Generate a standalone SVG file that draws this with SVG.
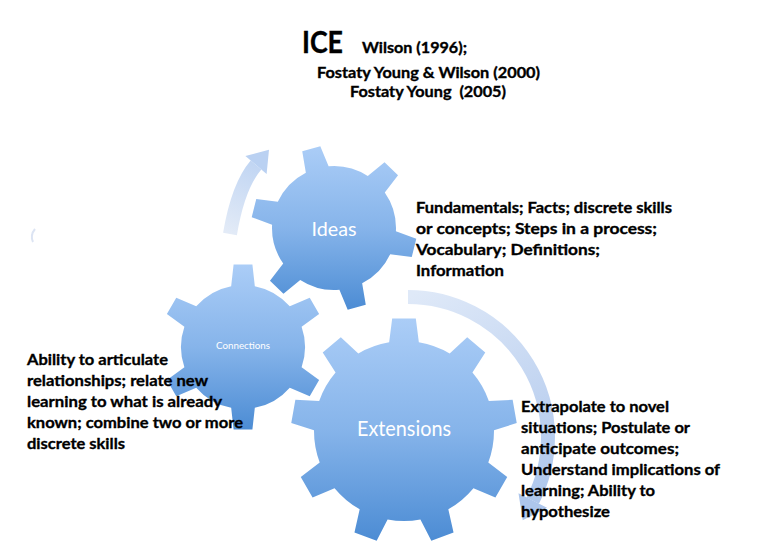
<svg xmlns="http://www.w3.org/2000/svg" width="768" height="557" viewBox="0 0 768 557">
<defs>
<style>
.desc{font-family:Lato,"Liberation Sans",sans-serif;font-weight:bold;font-size:16px;fill:#000;stroke:#000;stroke-width:0.35px}
.title{font-family:Lato,"Liberation Sans",sans-serif;font-weight:bold;fill:#000;stroke:#000;stroke-width:0.35px}
.lbl{font-family:Lato,"Liberation Sans",sans-serif;fill:#fff;text-anchor:middle}
.gear{fill:url(#gearGrad)}
</style>
<linearGradient id="gearGrad" x1="0" y1="0" x2="0" y2="1">
<stop offset="0" stop-color="#abcdf7"/>
<stop offset="0.5" stop-color="#86b4ea"/>
<stop offset="1" stop-color="#4c8cd4"/>
</linearGradient>
<linearGradient id="arrR" gradientUnits="userSpaceOnUse" x1="408" y1="297" x2="530" y2="515">
<stop offset="0" stop-color="#dfe9f8"/>
<stop offset="1" stop-color="#adc6ec"/>
</linearGradient>
<linearGradient id="arrL" gradientUnits="userSpaceOnUse" x1="230" y1="234" x2="265" y2="152">
<stop offset="0" stop-color="#e3ebf7"/>
<stop offset="1" stop-color="#bad1f2"/>
</linearGradient>
</defs>
<rect width="768" height="557" fill="#fff"/>

<g id="title">
<text class="title" x="302" y="53" font-size="30" textLength="41" lengthAdjust="spacingAndGlyphs">ICE</text>
<text class="title" x="362" y="53" font-size="15" textLength="105" lengthAdjust="spacingAndGlyphs">Wilson (1996);</text>
<text class="title" x="317" y="78" font-size="15" textLength="223" lengthAdjust="spacingAndGlyphs">Fostaty Young &amp; Wilson (2000)</text>
<text class="title" x="350" y="97" font-size="15" textLength="156" lengthAdjust="spacingAndGlyphs" xml:space="preserve">Fostaty Young  (2005)</text>
</g>

<g id="connectors">
<path d="M230,234 Q238,186 256,165" fill="none" stroke="url(#arrL)" stroke-width="14"/>
<polygon points="245.4,155.9 269,149.8 266.6,174.1" fill="#bad1f2"/>
<path d="M408,297 A140,140 0 0 1 532.7,500.6" fill="none" stroke="url(#arrR)" stroke-width="14"/>
<polygon points="547,507.8 522.7,520.2 518.5,493.3" fill="#adc6ec"/>
<path d="M35,229 Q30,235 33,242" fill="none" stroke="#cdd9ee" stroke-width="2" opacity="0.7"/>
</g>

<g id="node-extensions">
<path class="gear" transform="translate(404,431)" d="M-14.85,-88.77 L-11.81,-112.38 L11.81,-112.38 L14.85,-88.77 A90,90 0 0 1 45.68,-77.54 L63.19,-93.68 L81.28,-78.50 L68.44,-58.45 A90,90 0 0 1 84.83,-30.04 L108.63,-31.14 L112.73,-7.88 L90.00,-0.79 A90,90 0 0 1 84.30,31.52 L103.23,45.96 L91.42,66.42 L69.44,57.25 A90,90 0 0 1 44.32,78.34 L49.54,101.56 L27.34,109.64 L16.40,88.50 A90,90 0 0 1 -16.40,88.50 L-27.34,109.64 L-49.54,101.56 L-44.32,78.34 A90,90 0 0 1 -69.44,57.25 L-91.42,66.42 L-103.23,45.96 L-84.30,31.52 A90,90 0 0 1 -90.00,-0.79 L-112.73,-7.88 L-108.63,-31.14 L-84.83,-30.04 A90,90 0 0 1 -68.44,-58.45 L-81.28,-78.50 L-63.19,-93.68 L-45.68,-77.54 A90,90 0 0 1 -14.85,-88.77 Z"/>
<text class="lbl" x="404" y="436" font-size="21" textLength="94" lengthAdjust="spacingAndGlyphs">Extensions</text>
<g class="desc">
<text x="521" y="412" textLength="148" lengthAdjust="spacingAndGlyphs">Extrapolate to novel</text>
<text x="521" y="433" textLength="169" lengthAdjust="spacingAndGlyphs">situations; Postulate or</text>
<text x="521" y="454" textLength="158" lengthAdjust="spacingAndGlyphs">anticipate outcomes;</text>
<text x="521" y="475" textLength="199" lengthAdjust="spacingAndGlyphs">Understand implications of</text>
<text x="521" y="496" textLength="134" lengthAdjust="spacingAndGlyphs">learning; Ability to</text>
<text x="521" y="517" textLength="89" lengthAdjust="spacingAndGlyphs">hypothesize</text>
</g>
</g>

<g id="node-connections">
<path class="gear" transform="translate(243,347)" d="M58.62,20.19 L76.12,33.09 L66.72,49.37 L46.79,40.68 A62,62 0 0 1 11.83,60.86 L9.40,82.47 L-9.40,82.47 L-11.83,60.86 A62,62 0 0 1 -46.79,40.68 L-66.72,49.37 L-76.12,33.09 L-58.62,20.19 A62,62 0 0 1 -58.62,-20.19 L-76.12,-33.09 L-66.72,-49.37 L-46.79,-40.68 A62,62 0 0 1 -11.83,-60.86 L-9.40,-82.47 L9.40,-82.47 L11.83,-60.86 A62,62 0 0 1 46.79,-40.68 L66.72,-49.37 L76.12,-33.09 L58.62,-20.19 A62,62 0 0 1 58.62,20.19 Z"/>
<text class="lbl" x="243" y="349" font-size="10" textLength="54" lengthAdjust="spacingAndGlyphs">Connections</text>
<g class="desc">
<text x="27" y="365" textLength="141" lengthAdjust="spacingAndGlyphs">Ability to articulate</text>
<text x="27" y="386" textLength="181" lengthAdjust="spacingAndGlyphs">relationships; relate new</text>
<text x="27" y="407" textLength="195" lengthAdjust="spacingAndGlyphs">learning to what is already</text>
<text x="27" y="428" textLength="216" lengthAdjust="spacingAndGlyphs">known; combine two or more</text>
<text x="27" y="449" textLength="98" lengthAdjust="spacingAndGlyphs">discrete skills</text>
</g>
</g>

<g id="node-ideas">
<path class="gear" transform="translate(334,228)" d="M61.91,3.24 L82.29,10.83 L77.75,29.07 L56.19,26.20 A62,62 0 0 1 28.15,55.24 L31.76,76.68 L13.70,81.86 L5.40,61.76 A62,62 0 0 1 -33.77,52.00 L-50.53,65.85 L-64.04,52.80 L-50.79,35.56 A62,62 0 0 1 -61.91,-3.24 L-82.29,-10.83 L-77.75,-29.07 L-56.19,-26.20 A62,62 0 0 1 -28.15,-55.24 L-31.76,-76.68 L-13.70,-81.86 L-5.40,-61.76 A62,62 0 0 1 33.77,-52.00 L50.53,-65.85 L64.04,-52.80 L50.79,-35.56 A62,62 0 0 1 61.91,3.24 Z"/>
<text class="lbl" x="334" y="236" font-size="20" textLength="45" lengthAdjust="spacingAndGlyphs">Ideas</text>
<g class="desc">
<text x="416" y="213" textLength="256" lengthAdjust="spacingAndGlyphs">Fundamentals; Facts; discrete skills</text>
<text x="416" y="234" textLength="241" lengthAdjust="spacingAndGlyphs">or concepts; Steps in a process;</text>
<text x="416" y="255" textLength="184" lengthAdjust="spacingAndGlyphs">Vocabulary; Definitions;</text>
<text x="416" y="276" textLength="88" lengthAdjust="spacingAndGlyphs">Information</text>
</g>
</g>
</svg>
